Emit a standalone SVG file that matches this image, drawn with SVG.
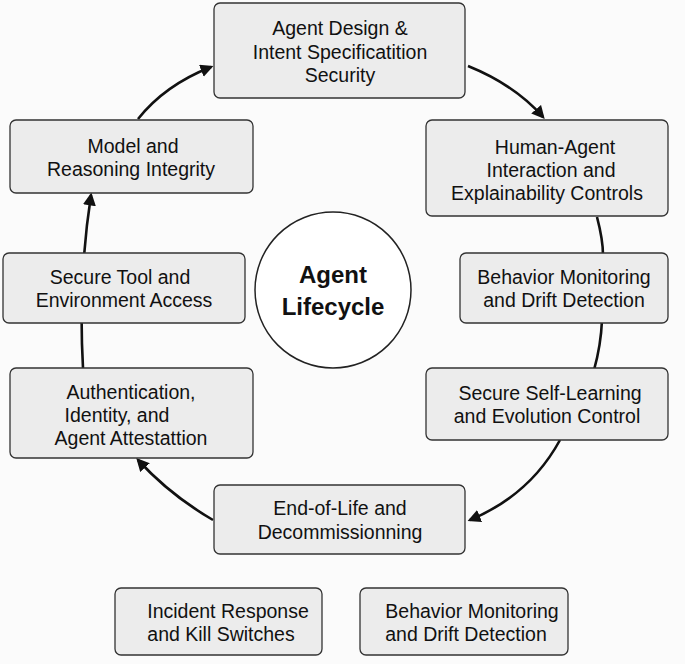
<svg xmlns="http://www.w3.org/2000/svg" width="685" height="664" viewBox="0 0 685 664">
<style>
.box{fill:#ececec;stroke:#333;stroke-width:1.3}
.t{font-family:"Liberation Sans",Arial,sans-serif;font-size:19.5px;fill:#111;text-anchor:middle}
.c{fill:none;stroke:#111;stroke-width:2.6}
</style>
<defs><marker id="a" viewBox="0 0 10 10" refX="8" refY="5" markerWidth="5" markerHeight="5" orient="auto"><path d="M0,0L10,5L0,10z" fill="#111"/></marker></defs>
<rect width="685" height="664" fill="#fbfbfb"/>
<g id="connectors">
<path class="c" d="M138,119 Q165,85 211,67" marker-end="url(#a)"/>
<path class="c" d="M468,66 Q515,85 543,117" marker-end="url(#a)"/>
<path class="c" d="M597,217 Q603,240 603,255"/>
<path class="c" d="M602,320 Q601,345 594,370"/>
<path class="c" d="M560,440 Q530,495 470,520" marker-end="url(#a)"/>
<path class="c" d="M213,520 Q170,495 138,460" marker-end="url(#a)"/>
<path class="c" d="M83,368 Q78,280 91,195" marker-end="url(#a)"/>
</g>
<g id="center"><circle cx="333" cy="290" r="78" fill="#fff" stroke="#222" stroke-width="1.5"/>
<text class="t" x="333" y="283" style="font-size:24px;font-weight:bold">Agent</text>
<text class="t" x="333" y="315" style="font-size:24px;font-weight:bold">Lifecycle</text></g>
<g id="n1"><rect class="box" x="214" y="3" width="251" height="95" rx="6"/><text class="t" x="340" y="35">Agent Design &amp;</text><text class="t" x="340" y="59">Intent Specificatition</text><text class="t" x="340" y="82">Security</text></g>
<g id="n2"><rect class="box" x="426" y="120" width="242" height="96" rx="6"/><text class="t" x="555" y="154">Human-Agent</text><text class="t" x="551" y="177">Interaction and</text><text class="t" x="547" y="200">Explainability Controls</text></g>
<g id="n3"><rect class="box" x="460" y="253" width="208" height="70" rx="6"/><text class="t" x="564" y="284">Behavior Monitoring</text><text class="t" x="564" y="307">and Drift Detection</text></g>
<g id="n4"><rect class="box" x="426" y="368" width="242" height="72" rx="6"/><text class="t" x="550" y="400">Secure Self-Learning</text><text class="t" x="547" y="423">and Evolution Control</text></g>
<g id="n5"><rect class="box" x="214" y="485" width="251" height="69" rx="6"/><text class="t" x="340" y="515">End-of-Life and</text><text class="t" x="340" y="539">Decommissionning</text></g>
<g id="n6"><rect class="box" x="10" y="368" width="243" height="90" rx="6"/><text class="t" x="131" y="399">Authentication,</text><text class="t" x="117" y="422">Identity, and</text><text class="t" x="131" y="445">Agent Attestattion</text></g>
<g id="n7"><rect class="box" x="3" y="253" width="242" height="70" rx="6"/><text class="t" x="120" y="284">Secure Tool and</text><text class="t" x="124" y="307">Environment Access</text></g>
<g id="n8"><rect class="box" x="10" y="120" width="243" height="73" rx="6"/><text class="t" x="133" y="153">Model and</text><text class="t" x="131" y="176">Reasoning Integrity</text></g>
<g id="n9"><rect class="box" x="115" y="588" width="207" height="67" rx="6"/><text class="t" x="228" y="618">Incident Response</text><text class="t" x="221" y="641">and Kill Switches</text></g>
<g id="n10"><rect class="box" x="360" y="588" width="208" height="67" rx="6"/><text class="t" x="472" y="618">Behavior Monitoring</text><text class="t" x="466" y="641">and Drift Detection</text></g>
</svg>
